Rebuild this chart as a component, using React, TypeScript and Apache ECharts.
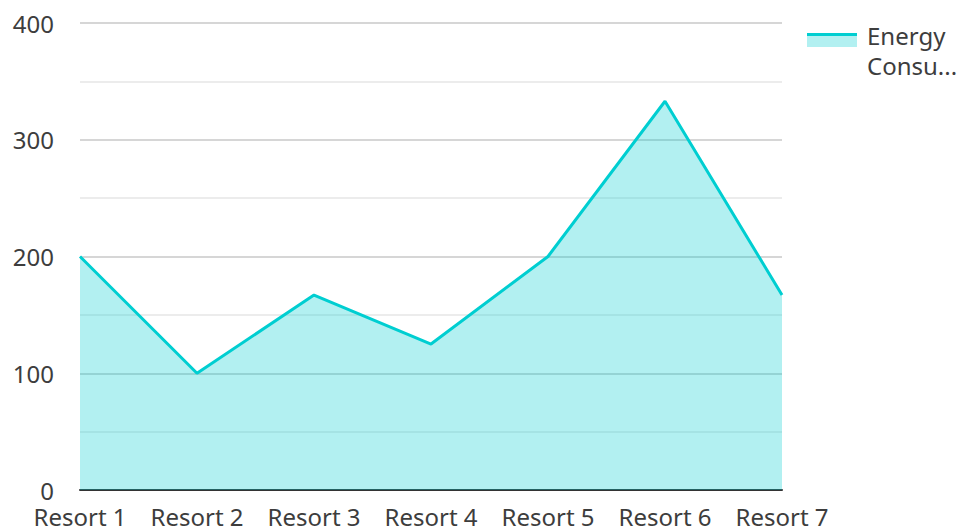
import React, { useEffect, useRef } from "react";
import * as echarts from "echarts";

const categories = ["Resort 1", "Resort 2", "Resort 3", "Resort 4", "Resort 5", "Resort 6", "Resort 7"];
const energyValues = [200, 100, 167, 125, 200, 333, 167];
const seriesName = "Energy Consumption";
const legendLabel = "Energy\nConsu...";
const yTicks = { min: 0, max: 400, interval: 100 };

const LINE = "#00CED1";
const FILL = "rgba(0,206,209,0.3)";
const FONT = "Noto Sans";
const TEXT = "#3d3d3d";

export default function App() {
  const ref = useRef<HTMLDivElement>(null);
  useEffect(() => {
    if (!ref.current) return;
    const chart = echarts.init(ref.current, undefined, { renderer: "svg" });
    chart.setOption({
      animation: false,
      textStyle: { fontFamily: FONT },
      grid: { left: 80, right: 179, top: 23, bottom: 41, containLabel: false },
      graphic: [
        {
          type: "rect",
          shape: { x: 807, y: 33, width: 50, height: 14 },
          style: { fill: FILL },
          z: 100,
        },
        {
          type: "line",
          shape: { x1: 807, y1: 34.5, x2: 857, y2: 34.5 },
          style: { stroke: LINE, lineWidth: 3 },
          z: 101,
        },
        {
          type: "text",
          x: 867,
          y: 20,
          style: {
            text: legendLabel,
            fontFamily: FONT,
            fontSize: 24,
            lineHeight: 30,
            fill: TEXT,
            verticalAlign: "top",
            align: "left",
          },
          z: 101,
        },
      ],
      xAxis: {
        type: "category",
        data: categories,
        boundaryGap: false,
        axisLine: { lineStyle: { color: "#333", width: 2 } },
        axisTick: { show: false },
        axisLabel: { fontFamily: FONT, fontSize: 24, color: TEXT, margin: 14, interval: 0 },
        splitLine: { show: false },
      },
      yAxis: {
        type: "value",
        min: yTicks.min,
        max: yTicks.max,
        interval: yTicks.interval,
        axisLine: { show: false },
        axisTick: { show: false },
        axisLabel: { fontFamily: FONT, fontSize: 24, lineHeight: 20, color: TEXT, margin: 26 },
        splitLine: { lineStyle: { color: "#c8c8c8", width: 1.5 } },
        minorTick: { show: false, splitNumber: 2 },
        minorSplitLine: { show: true, lineStyle: { color: "#e6e6e6", width: 1.5 } },
      },
      series: [
        {
          name: seriesName,
          type: "line",
          data: energyValues,
          symbol: "none",
          lineStyle: { color: LINE, width: 3 },
          itemStyle: { color: LINE },
          areaStyle: { color: FILL, opacity: 1 },
        },
      ],
    });
    return () => chart.dispose();
  }, []);
  return <div ref={ref} style={{ width: 961, height: 531, position: "absolute", left: 0, top: 0 }} />;
}
